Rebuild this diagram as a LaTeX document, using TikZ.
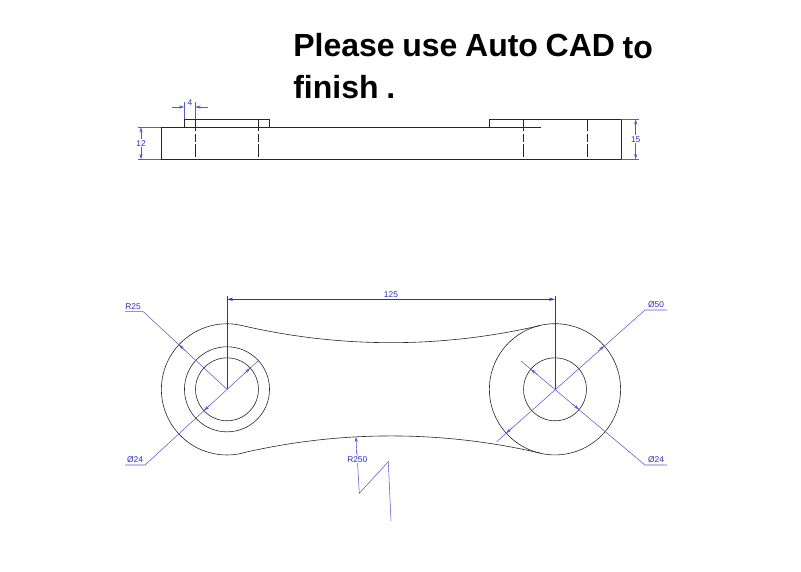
\documentclass[tikz,border=0pt]{standalone}
\usepackage{fontspec}
\setmainfont{Liberation Sans}
\usepackage{tikz}
\usetikzlibrary{
  arrows.meta,
  positioning,
  calc
}
\definecolor{dimblue}{RGB}{45,45,200}

\begin{document}
\begin{tikzpicture}[
    x=0.75pt, y=-0.75pt,
    part/.style={draw=black!85, line width=0.45pt},
    hidden/.style={part, line width=0.6pt, dash pattern=on 9pt off 1.8pt on 6pt off 1.8pt on 10pt},
    dimln/.style={draw=dimblue!80, line width=0.4pt},
    dimbold/.style={draw=dimblue, line width=0.65pt},
    arr/.style={dimln, -{Stealth[length=4pt, width=2.4pt]}},
    darr/.style={dimbold, {Stealth[length=4.5pt, width=2.4pt]}-{Stealth[length=4.5pt, width=2.4pt]}},
    lbl/.style={font=\fontsize{6.3}{7}\selectfont, text=dimblue, inner sep=0.5pt},
    title/.style={font={\fontsize{24}{31}\selectfont\bfseries\spaceskip=0.24em\relax}, align=left, inner sep=0pt},
  ]
  \useasboundingbox (0,0) rectangle (801,572);

  % ---- Title ----
  \node[title, anchor=west] (note) at (293,66) {Please use Auto CAD \raisebox{-1.5pt}{to}\\finish .};

  % ---- Side view ----
  \draw[part] (541,127.3) -- (161,127.3) -- (161,159.3) -- (621,159.3) -- (621,119.3) -- (489.3,119.3) -- (489.3,127.3);
  \draw[part] (184.3,127.3) -- (184.3,119.3) -- (269.3,119.3) -- (269.3,127.3);
  \foreach \hx in {195.3,258.3,523.3,587}
    \draw[hidden] (\hx,119.3) -- (\hx,159.3);

  % ---- Side view dimensions ----
  \draw[dimln] (184.3,119.3) -- (184.3,102);
  \draw[dimln] (195.3,119.3) -- (195.3,102);
  \draw[arr] (172,107) -- (184.3,107);
  \draw[arr] (208,107) -- (195.3,107);
  \node[lbl] (dimfour) at (190,102.5) {4};

  \draw[dimln] (161,127.3) -- (138,127.3);
  \draw[dimln] (161,159.3) -- (138,159.3);
  \node[lbl] (dimtwelve) at (141,143.3) {12};
  \draw[arr] (dimtwelve.north) -- (141,127.3);
  \draw[arr] (dimtwelve.south) -- (141,159.3);

  \draw[dimln] (621,119.3) -- (639,119.3);
  \draw[dimln] (621,159.3) -- (639,159.3);
  \node[lbl] (dimfifteen) at (635.7,139.3) {15};
  \draw[arr] (dimfifteen.north) -- (635.7,119.3);
  \draw[arr] (dimfifteen.south) -- (635.7,159.3);

  % ---- Plan view ----
  \coordinate (hubl) at (227,389.3);
  \coordinate (hubr) at (555,389.3);
  \draw[part] (241.9,325.5) arc[start angle=76.86, end angle=283.14, radius=49.2pt];
  \draw[part] (hubl) circle[radius=31.9pt];
  \draw[part] (hubl) circle[radius=23.6pt];
  \draw[part] (hubr) circle[radius=49.2pt];
  \draw[part] (hubr) circle[radius=23.6pt];
  \draw[part] (241.9,325.5) arc[start angle=256.86, end angle=283.14, radius=492pt];
  \draw[part] (241.9,453.1) arc[start angle=103.14, end angle=76.86, radius=492pt];

  % ---- Centre distance ----
  \draw[dimbold] (hubl) -- (227,296);
  \draw[dimbold] (hubr) -- (555,296);
  \draw[darr] (227,299.3) -- (555,299.3);
  \node[lbl] (dimcentre) at (391,295) {125};

  % ---- Leaders ----
  \coordinate (rtop) at (143.3,311.7);
  \coordinate (lend) at (145,465);
  \coordinate (lopp) at (259,360);
  \coordinate (oend) at (645,310);
  \coordinate (oopp) at (496.7,441.7);
  \coordinate (iend) at (645,465);
  \coordinate (iopp) at (521,361);

  \node[lbl] (dimrad) at (133,307) {R25};
  \node[lbl] (dimleft) at (135,459.5) {Ø24};
  \node[lbl] (dimouter) at (656,304.5) {Ø50};
  \node[lbl] (dimright) at (656,459.5) {Ø24};

  \draw[dimln] (hubl) -- (rtop) -- (125,311.7);
  \draw[dimln] (lopp) -- (lend) -- (125,465);
  \draw[dimln] (oopp) -- (oend) -- (667,310);
  \draw[dimln] (iopp) -- (iend) -- (667,465);

  \draw[arr] ($(hubl)!43pt!(rtop)$) -- ($(hubl)!49.2pt!(rtop)$);
  \draw[arr] ($(hubl)!17.4pt!(lopp)$) -- ($(hubl)!23.6pt!(lopp)$);
  \draw[arr] ($(hubl)!17.4pt!(lend)$) -- ($(hubl)!23.6pt!(lend)$);
  \draw[arr] ($(hubr)!43pt!(oend)$) -- ($(hubr)!49.2pt!(oend)$);
  \draw[arr] ($(hubr)!43pt!(oopp)$) -- ($(hubr)!49.2pt!(oopp)$);
  \draw[arr] ($(hubr)!17.4pt!(iend)$) -- ($(hubr)!23.6pt!(iend)$);
  \draw[arr] ($(hubr)!17.4pt!(iopp)$) -- ($(hubr)!23.6pt!(iopp)$);

  % ---- Arc radius ----
  \coordinate (arcpt) at (356,436.8);
  \coordinate (brka) at (359.3,493.3);
  \coordinate (brkb) at (388.3,461.7);
  \coordinate (brkc) at (391,521);
  \draw[dimln] (356.8,450) -- (brka) -- (brkb) -- (brkc);
  \draw[arr] (356.8,454) -- (arcpt);
  \node[lbl, fill=white] (dimarc) at (357.3,459.3) {R250};
\end{tikzpicture}
\end{document}
